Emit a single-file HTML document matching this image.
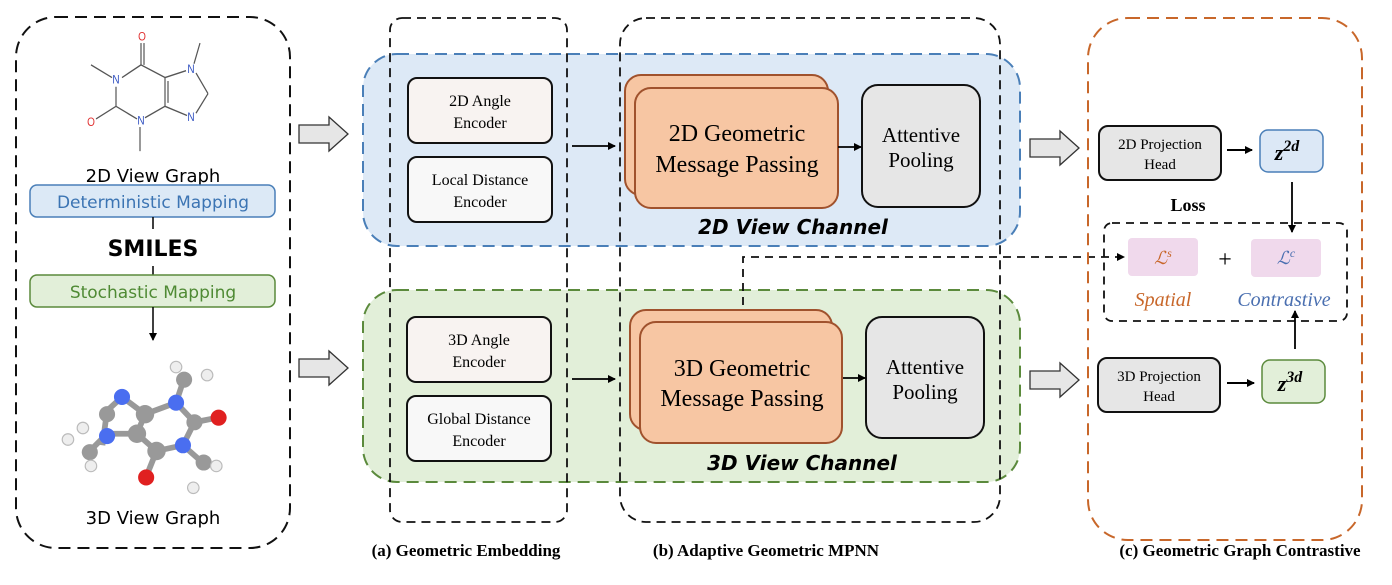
<!DOCTYPE html>
<html><head><meta charset="utf-8"><style>
html,body{margin:0;padding:0;background:#fff;}
svg{display:block;}
.s{font-family:"Liberation Serif",serif;}
.a{font-family:"DejaVu Sans","Liberation Sans",sans-serif;}
</style></head><body>
<svg width="1392" height="585" viewBox="0 0 1392 585" xmlns="http://www.w3.org/2000/svg">
<defs>
<marker id="ah" markerWidth="8" markerHeight="8" refX="7" refY="4" orient="auto" markerUnits="userSpaceOnUse"><path d="M0,0 L8,4 L0,8 z" fill="#000"/></marker>
</defs>
<rect x="16" y="17" width="274" height="531" rx="40" fill="none" stroke="#111" stroke-width="2" stroke-dasharray="12,7"/>
<g transform="translate(0,35) scale(1,1.15) translate(0,-35)">
<g stroke="#555" stroke-width="1.2" fill="none">
<line x1="91" y1="61" x2="112" y2="72"/><line x1="122" y1="72" x2="141" y2="61"/><line x1="141" y1="61" x2="165" y2="72"/>
<line x1="141" y1="61" x2="141" y2="42"/><line x1="144" y1="61" x2="144" y2="42"/>
<line x1="116" y1="80" x2="116" y2="97"/><line x1="116" y1="97" x2="96" y2="108"/><line x1="116" y1="97" x2="137" y2="108"/>
<line x1="140" y1="115" x2="140" y2="136"/><line x1="145" y1="107" x2="165" y2="97"/><line x1="165" y1="72" x2="165" y2="97"/>
<line x1="168" y1="75" x2="168" y2="94"/><line x1="165" y1="72" x2="186" y2="66"/><line x1="194" y1="60" x2="200" y2="42"/>
<line x1="196" y1="68" x2="208" y2="86"/><line x1="208" y1="86" x2="196" y2="103"/><line x1="165" y1="97" x2="187" y2="105"/>
</g>
<g font-family="Liberation Sans,sans-serif" font-size="10" text-anchor="middle">
<text x="116" y="77" fill="#3050c0">N</text><text x="142" y="40" fill="#e03030">O</text><text x="141" y="113" fill="#3050c0">N</text>
<text x="91" y="114" fill="#e03030">O</text><text x="191" y="68" fill="#3050c0">N</text><text x="191" y="110" fill="#3050c0">N</text>
</g>
</g>
<text x="153" y="182" class="a" font-size="18" text-anchor="middle">2D View Graph</text>
<line x1="153" y1="215" x2="153" y2="192" stroke="#000" stroke-width="1.5" marker-end="url(#ah)"/>
<rect x="30" y="185" width="245" height="32" rx="7" fill="#dce9f6" stroke="#4a7fb8" stroke-width="1.5"/>
<text x="153" y="208" class="a" font-size="17" fill="#3b74b3" text-anchor="middle">Deterministic Mapping</text>
<line x1="153" y1="217" x2="153" y2="229" stroke="#000" stroke-width="1.5"/>
<text x="153" y="256" class="a" font-size="22" font-weight="bold" text-anchor="middle">SMILES</text>
<line x1="153" y1="266" x2="153" y2="275" stroke="#000" stroke-width="1.5"/>
<rect x="30" y="275" width="245" height="32" rx="7" fill="#e2efd9" stroke="#5b8a3c" stroke-width="1.5"/>
<text x="153" y="298" class="a" font-size="17" fill="#4f8a34" text-anchor="middle">Stochastic Mapping</text>
<line x1="153" y1="307" x2="153" y2="340" stroke="#000" stroke-width="1.5" marker-end="url(#ah)"/>
<g transform="translate(145,428) scale(1.15) translate(-145,-390)">
<g stroke="#999" stroke-width="5">
<line x1="108" y1="405" x2="112" y2="375"/><line x1="112" y1="375" x2="125" y2="363"/><line x1="125" y1="363" x2="145" y2="378"/>
<line x1="145" y1="378" x2="138" y2="395"/><line x1="138" y1="395" x2="112" y2="395"/><line x1="145" y1="378" x2="172" y2="368"/>
<line x1="172" y1="368" x2="188" y2="385"/><line x1="188" y1="385" x2="178" y2="405"/><line x1="178" y1="405" x2="155" y2="410"/>
<line x1="155" y1="410" x2="138" y2="395"/><line x1="112" y1="395" x2="97" y2="410"/><line x1="172" y1="368" x2="178" y2="350"/>
<line x1="178" y1="405" x2="195" y2="420"/><line x1="155" y1="410" x2="147" y2="430"/><line x1="188" y1="385" x2="208" y2="381"/>
</g>
<g>
<circle cx="125" cy="363" r="7" fill="#4a6ef0"/><circle cx="112" cy="378" r="7" fill="#999"/><circle cx="145" cy="378" r="8" fill="#999"/>
<circle cx="112" cy="397" r="7" fill="#4a6ef0"/><circle cx="138" cy="395" r="8" fill="#999"/><circle cx="172" cy="368" r="7" fill="#4a6ef0"/>
<circle cx="188" cy="385" r="7" fill="#999"/><circle cx="178" cy="405" r="7" fill="#4a6ef0"/><circle cx="155" cy="410" r="8" fill="#999"/>
<circle cx="209" cy="381" r="7" fill="#e02020"/><circle cx="146" cy="433" r="7" fill="#e02020"/><circle cx="97" cy="411" r="7" fill="#999"/>
<circle cx="179" cy="348" r="7" fill="#999"/><circle cx="196" cy="420" r="7" fill="#999"/>
<circle cx="91" cy="390" r="5" fill="#eee" stroke="#bbb"/><circle cx="78" cy="400" r="5" fill="#eee" stroke="#bbb"/><circle cx="98" cy="423" r="5" fill="#eee" stroke="#bbb"/>
<circle cx="172" cy="337" r="5" fill="#eee" stroke="#bbb"/><circle cx="199" cy="344" r="5" fill="#eee" stroke="#bbb"/>
<circle cx="207" cy="423" r="5" fill="#eee" stroke="#bbb"/><circle cx="187" cy="442" r="5" fill="#eee" stroke="#bbb"/>
</g>
</g>
<text x="153" y="524" class="a" font-size="18" text-anchor="middle">3D View Graph</text>
<g fill="#e6e6e6" stroke="#333" stroke-width="1.3">
<path d="M299,125 h30 v-8 l19,17 l-19,17 v-8 h-30 z"/>
<path d="M299,326 h30 v-8 l19,17 l-19,17 v-8 h-30 z" transform="translate(0,33)"/>
<path d="M1030,139 h30 v-8 l19,17 l-19,17 v-8 h-30 z"/>
<path d="M1030,371 h30 v-8 l19,17 l-19,17 v-8 h-30 z"/>
</g>
<rect x="363" y="54" width="657" height="192" rx="34" fill="#dde9f6" stroke="#4a7fb8" stroke-width="2" stroke-dasharray="12,7"/>
<rect x="363" y="290" width="657" height="192" rx="34" fill="#e2efd9" stroke="#5b8a3c" stroke-width="2" stroke-dasharray="12,7"/>
<rect x="390" y="18" width="177" height="504" rx="12" fill="none" stroke="#111" stroke-width="1.8" stroke-dasharray="9,6"/>
<rect x="620" y="18" width="380" height="504" rx="26" fill="none" stroke="#111" stroke-width="1.8" stroke-dasharray="9,6"/>
<g stroke="#111" stroke-width="2">
<rect x="408" y="78" width="144" height="65" rx="9" fill="#f8f3f1"/>
<rect x="408" y="157" width="144" height="65" rx="9" fill="#f8f8f8"/>
<rect x="407" y="317" width="144" height="65" rx="9" fill="#f8f3f1"/>
<rect x="407" y="396" width="144" height="65" rx="9" fill="#f8f8f8"/>
</g>
<g class="s" font-size="16" text-anchor="middle">
<text x="480" y="106">2D Angle</text><text x="480" y="128">Encoder</text>
<text x="480" y="185">Local Distance</text><text x="480" y="207">Encoder</text>
<text x="479" y="345">3D Angle</text><text x="479" y="367">Encoder</text>
<text x="479" y="424">Global Distance</text><text x="479" y="446">Encoder</text>
</g>
<g fill="#f7c6a3" stroke="#a0522d" stroke-width="2">
<rect x="625" y="75" width="203" height="120" rx="16"/>
<rect x="635" y="88" width="203" height="120" rx="16"/>
<rect x="630" y="310" width="202" height="120" rx="16"/>
<rect x="640" y="322" width="202" height="121" rx="16"/>
</g>
<g class="s" font-size="24" text-anchor="middle">
<text x="737" y="141">2D  Geometric</text><text x="737" y="172">Message Passing</text>
<text x="742" y="376">3D  Geometric</text><text x="742" y="406">Message Passing</text>
</g>
<g stroke="#111" stroke-width="2" fill="#e6e6e6">
<rect x="862" y="85" width="118" height="122" rx="16"/>
<rect x="866" y="317" width="118" height="121" rx="16"/>
</g>
<g class="s" font-size="21" text-anchor="middle">
<text x="921" y="142">Attentive</text><text x="921" y="167">Pooling</text>
<text x="925" y="374">Attentive</text><text x="925" y="399">Pooling</text>
</g>
<g stroke="#000" stroke-width="1.8" marker-end="url(#ah)">
<line x1="572" y1="146" x2="615" y2="146"/><line x1="838" y1="147" x2="861" y2="147"/>
<line x1="572" y1="379" x2="615" y2="379"/><line x1="843" y1="378" x2="865" y2="378"/>
</g>
<text x="793" y="234" class="a" font-size="20" font-weight="bold" font-style="italic" text-anchor="middle">2D View Channel</text>
<text x="802" y="470" class="a" font-size="20" font-weight="bold" font-style="italic" text-anchor="middle">3D View Channel</text>
<polyline points="743,305 743,257 1124,257" fill="none" stroke="#111" stroke-width="1.8" stroke-dasharray="8,6" marker-end="url(#ah)"/>
<rect x="1088" y="18" width="274" height="522" rx="40" fill="none" stroke="#c8672a" stroke-width="2" stroke-dasharray="12,7"/>
<rect x="1099" y="126" width="122" height="54" rx="9" fill="#e6e6e6" stroke="#111" stroke-width="2"/>
<text x="1160" y="149" class="s" font-size="15" text-anchor="middle">2D Projection</text>
<text x="1160" y="169" class="s" font-size="15" text-anchor="middle">Head</text>
<line x1="1227" y1="150" x2="1252" y2="150" stroke="#000" stroke-width="2" marker-end="url(#ah)"/>
<rect x="1260" y="130" width="63" height="42" rx="8" fill="#dce8f6" stroke="#4a7fb8" stroke-width="1.5"/>
<text x="1287" y="160" class="s" font-size="22" font-weight="bold" font-style="italic" text-anchor="middle">z<tspan font-size="16" dy="-9">2d</tspan></text>
<text x="1188" y="211" class="s" font-size="18" font-weight="bold" text-anchor="middle">Loss</text>
<line x1="1292" y1="182" x2="1292" y2="232" stroke="#000" stroke-width="1.8" marker-end="url(#ah)"/>
<rect x="1104" y="223" width="243" height="98" rx="8" fill="none" stroke="#111" stroke-width="1.8" stroke-dasharray="8,6"/>
<rect x="1128" y="238" width="70" height="38" rx="4" fill="#f0d9ec"/>
<rect x="1251" y="239" width="70" height="38" rx="4" fill="#f0d9ec"/>
<text x="1163" y="264" class="s" font-size="18" font-style="italic" fill="#c8672a" text-anchor="middle">ℒ<tspan font-size="12" dy="-7">s</tspan></text>
<text x="1286" y="264" class="s" font-size="18" font-style="italic" fill="#4a6fb0" text-anchor="middle">ℒ<tspan font-size="12" dy="-7">c</tspan></text>
<text x="1225" y="267" class="s" font-size="24" text-anchor="middle">+</text>
<text x="1163" y="306" class="s" font-size="20" font-style="italic" fill="#c8672a" text-anchor="middle">Spatial</text>
<text x="1284" y="306" class="s" font-size="20" font-style="italic" fill="#4a6fb0" text-anchor="middle">Contrastive</text>
<line x1="1295" y1="349" x2="1295" y2="311" stroke="#000" stroke-width="1.8" marker-end="url(#ah)"/>
<rect x="1098" y="358" width="122" height="54" rx="9" fill="#e6e6e6" stroke="#111" stroke-width="2"/>
<text x="1159" y="381" class="s" font-size="15" text-anchor="middle">3D Projection</text>
<text x="1159" y="401" class="s" font-size="15" text-anchor="middle">Head</text>
<line x1="1227" y1="383" x2="1254" y2="383" stroke="#000" stroke-width="2" marker-end="url(#ah)"/>
<rect x="1262" y="360" width="63" height="43" rx="8" fill="#e2efd9" stroke="#5b8a3c" stroke-width="1.5"/>
<text x="1290" y="391" class="s" font-size="22" font-weight="bold" font-style="italic" text-anchor="middle">z<tspan font-size="16" dy="-9">3d</tspan></text>
<g class="s" font-size="17" font-weight="bold" text-anchor="middle">
<text x="466" y="556">(a) Geometric Embedding</text>
<text x="766" y="556">(b) Adaptive Geometric MPNN</text>
<text x="1240" y="556">(c) Geometric Graph Contrastive</text>
</g>
</svg>
</body></html>
